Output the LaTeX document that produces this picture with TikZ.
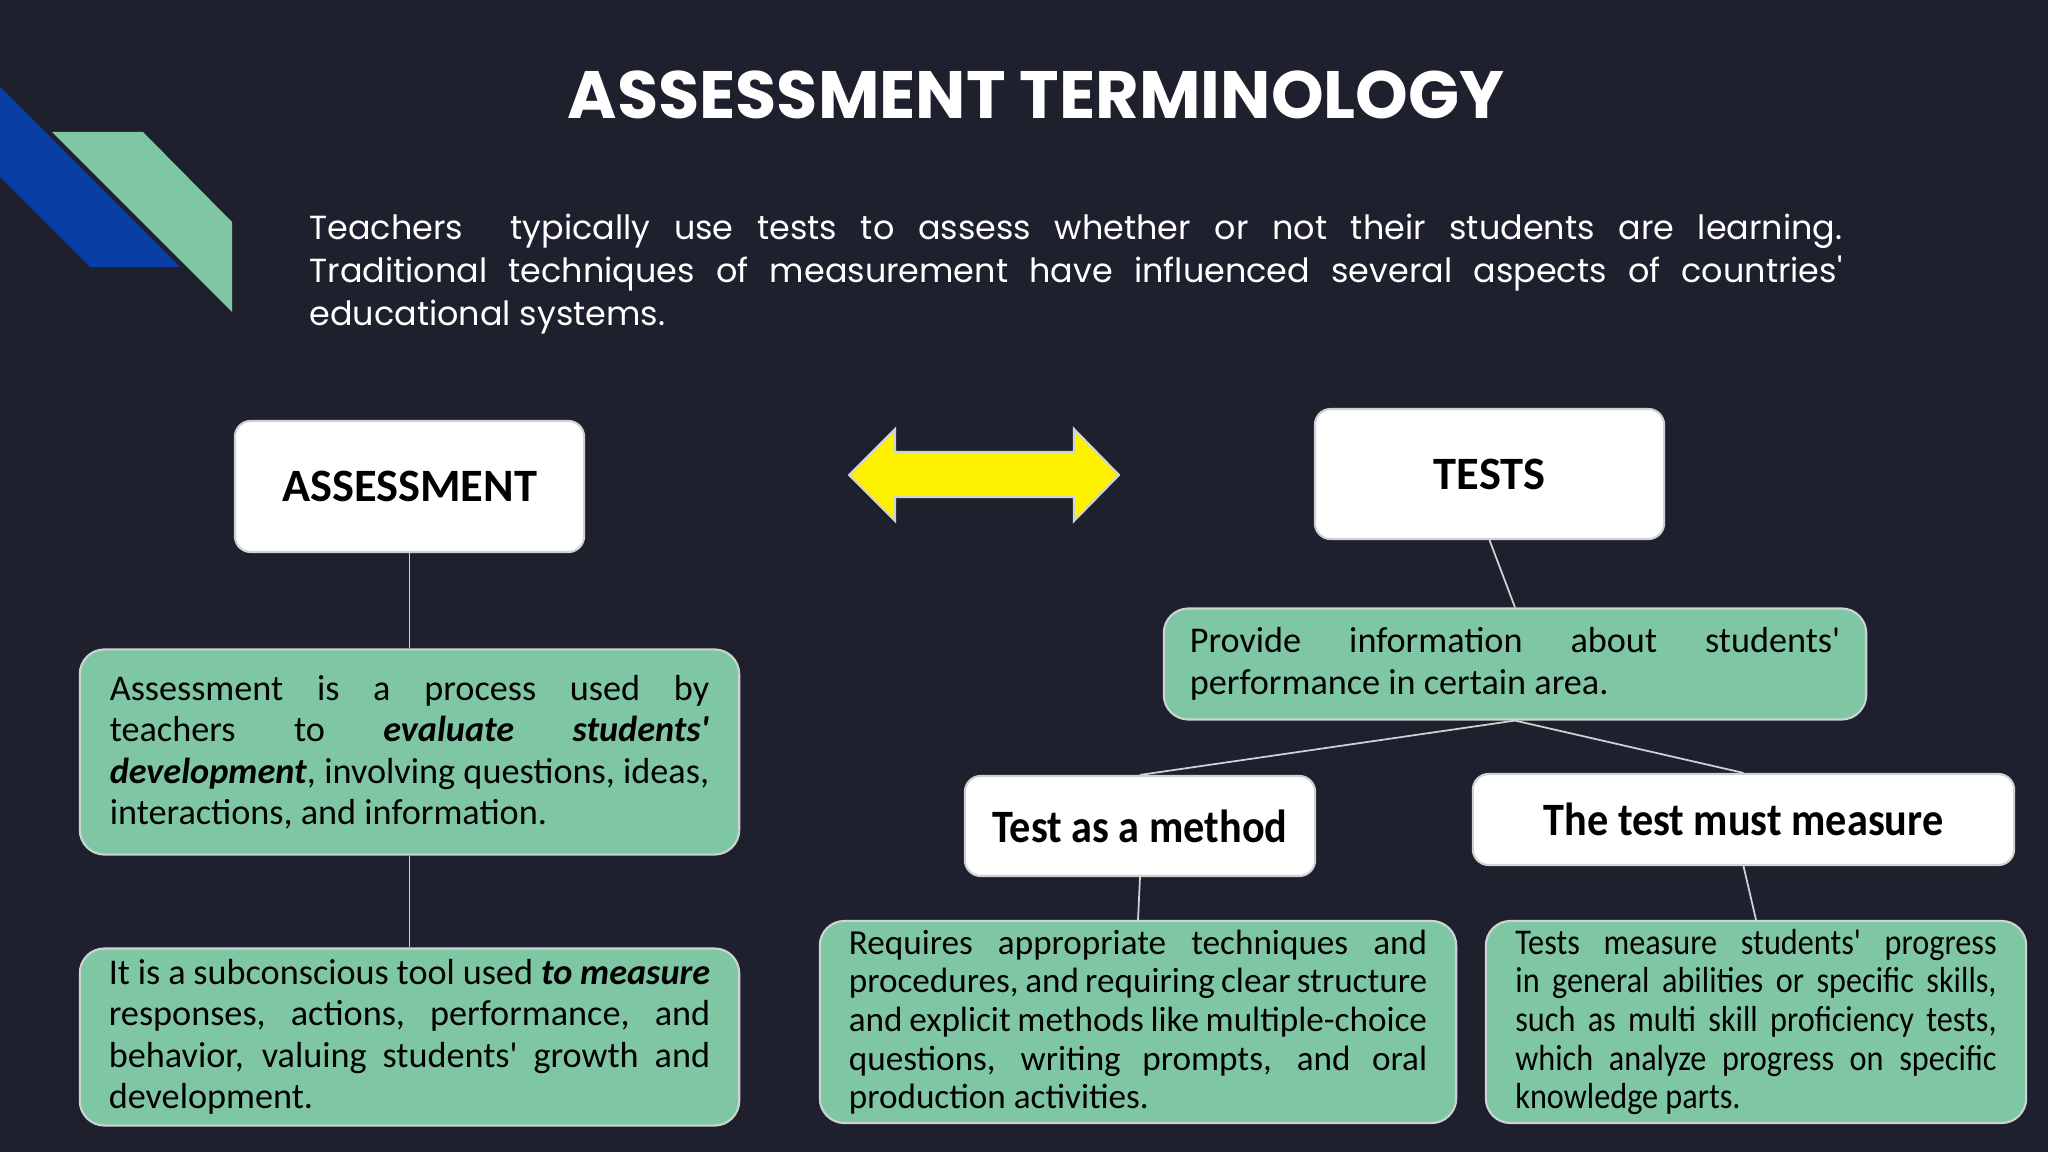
\documentclass[tikz,border=0pt]{standalone}
\usepackage{fontspec}
\setmainfont{Carlito}[Ligatures=TeXOff]
\newfontfamily\narrowfont{Carlito}[FakeStretch=0.91,Ligatures=TeXOff]
\newfontfamily\slimfont{Carlito}[FakeStretch=0.89,Ligatures=TeXOff]
\newfontfamily\slidefont{Poppins}[Ligatures=TeXOff]
\definecolor{slidebg}{RGB}{30,33,45}
\definecolor{mint}{RGB}{127,199,164}
\definecolor{deepblue}{RGB}{8,62,165}
\definecolor{rimgrey}{RGB}{205,210,210}

\begin{document}
\begin{tikzpicture}[x=0.01cm,y=-0.01cm,
    keybox/.style={draw=rimgrey,line width=0.6pt,fill=white,rounded corners=4.5pt,
      font=\fontsize{13.2}{16}\selectfont\bfseries,inner sep=0pt},
    notebox/.style={draw=rimgrey,line width=0.6pt,fill=mint,rounded corners=7pt,
      font=\fontsize{10.3}{11.8}\selectfont,align=justify,inner sep=0pt},
    link/.style={draw=rimgrey,line width=0.5pt}]
  \useasboundingbox (0,0) rectangle (2048,1152);
  \fill[slidebg] (0,0) rectangle (2048,1152);
  % corner ribbons
  \fill[deepblue] (0,87) -- (180,267) -- (90,267) -- (0,177) -- cycle;
  \fill[mint] (52,132) -- (143,132) -- (232,222) -- (232,312) -- cycle;
  % heading and intro
  \node[text=white,font=\slidefont\fontsize{19.05}{22}\selectfont\bfseries] (title) at (1036,95)
    {ASSESSMENT TERMINOLOGY};
  \node[text=white,text width=15.32cm,align=justify,inner sep=0pt,
    font=\slidefont\fontsize{9.5}{12.2}\selectfont] (intro) at (1076,274)
    {Teachers\ \ typically use tests to assess whether or not their students are learning.\linebreak
     Traditional techniques of measurement have influenced several aspects of countries'\linebreak
     educational systems.};
  % double arrow
  \filldraw[fill=yellow,draw=rimgrey,line width=0.6pt] (849,475) -- (895,429) -- (895,452)
    -- (1074,452) -- (1074,429) -- (1119,475) -- (1074,521) -- (1074,497)
    -- (895,497) -- (895,521) -- cycle;
  % left branch
  \node[keybox,minimum width=3.49cm,minimum height=1.31cm] (assess) at (409.5,486.5) {ASSESSMENT};
  \node[notebox,text width=5.99cm,minimum width=6.59cm,minimum height=2.05cm] (define) at (409.5,752)
    {Assessment is a process used by\linebreak
     teachers to \textbf{\textit{evaluate students'}}\linebreak
     \textbf{\textit{development}}, involving questions, ideas,\linebreak
     interactions, and information.};
  \node[notebox,text width=6.01cm,minimum width=6.59cm,minimum height=1.77cm] (gauge) at (409.5,1037)
    {It is a subconscious tool used \textbf{\textit{to measure}}\linebreak
     responses, actions, performance, and\linebreak
     behavior, valuing students' growth and\linebreak
     development.};
  \draw[link] (assess.south) -- (define.north)
    (define.south) -- (gauge.north);
  % right branch
  \node[keybox,minimum width=3.49cm,minimum height=1.30cm] (tests) at (1489.5,474) {TESTS};
  \node[notebox,text width=6.5cm,minimum width=7.02cm,minimum height=1.11cm] (inform) at (1515,664)
    {Provide information about students'\linebreak
     performance in certain area.};
  \node[keybox,minimum width=3.5cm,minimum height=1.0cm,font=\narrowfont\fontsize{13.2}{16}\selectfont\bfseries]
    (method) at (1140,826) {Test as a method};
  \node[keybox,minimum width=5.41cm,minimum height=0.91cm,font=\narrowfont\fontsize{13.2}{16}\selectfont\bfseries]
    (measure) at (1743.5,819.5) {The test must measure};
  \node[notebox,text width=5.78cm,minimum width=6.36cm,minimum height=2.02cm,
    font=\fontsize{10}{11}\selectfont] (require) at (1138,1022)
    {Requires appropriate techniques and\linebreak
     procedures, and requiring clear structure\linebreak
     and explicit methods like multiple-choice\linebreak
     questions, writing prompts, and oral\linebreak
     production activities.};
  \node[notebox,text width=4.81cm,minimum width=5.40cm,minimum height=2.02cm,
    font=\slimfont\fontsize{10.3}{11}\selectfont] (progress) at (1756,1022)
    {\hyphenpenalty=10000\relax
     Tests measure students' progress\linebreak
     in general abilities or specific skills,\linebreak
     such as multi skill proficiency tests,\linebreak
     which analyze progress on specific\linebreak
     knowledge parts.};
  \draw[link] (tests.south) -- (inform.north)
    (inform.south) -- (method.north)
    (inform.south) -- (measure.north)
    (method.south) -- (require.north)
    (measure.south) -- (progress.north);
\end{tikzpicture}
\end{document}
